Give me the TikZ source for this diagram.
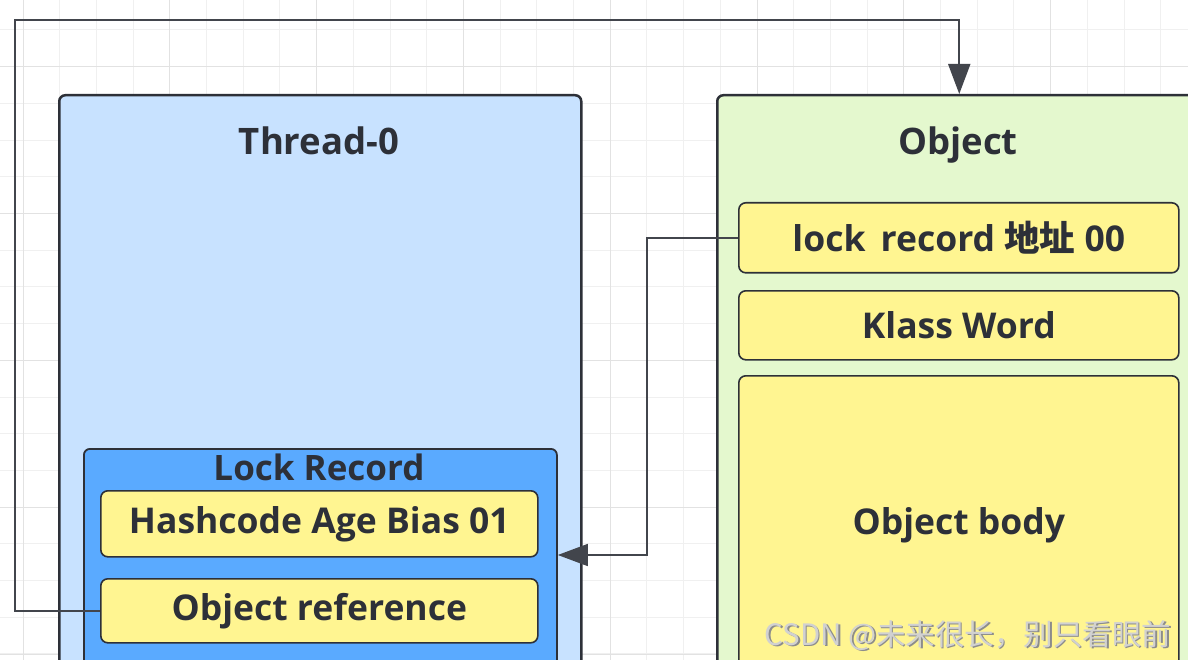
\documentclass[tikz,border=0pt]{standalone}
\usepackage{fontspec}
\setmainfont{Open Sans}
\newfontfamily\cjk{Noto Sans CJK SC}
\usetikzlibrary{%
    arrows.meta,
    positioning
}
\definecolor{threadblue}{RGB}{200,226,255}
\definecolor{recblue}{RGB}{90,170,255}
\definecolor{objgreen}{RGB}{228,248,206}
\definecolor{fieldyellow}{RGB}{255,245,145}
\definecolor{ink}{RGB}{45,48,56}
\definecolor{gridminor}{RGB}{240,240,240}
\definecolor{gridmajor}{RGB}{226,226,226}
\tikzset{headarrow/.style = {-{Triangle[length=30pt,width=22pt]}, line width=1.8pt, draw=ink!90}}
\tikzset{container/.style = {draw=ink, line width=2.5pt, rounded corners=6pt, anchor=north west, inner sep=0pt}}
\tikzset{field/.style = {draw=ink, line width=1.6pt, rounded corners=7pt, fill=fieldyellow, anchor=north west,
    font=\bfseries\fontsize{35.5}{40}\selectfont, text=ink}}
\tikzset{caption/.style = {font=\bfseries\fontsize{36.5}{40}\selectfont, text=ink, anchor=base}}

\begin{document}
\begin{tikzpicture}[x=1pt,y=-1pt]
    \useasboundingbox (0,0) rectangle (1188,660);
    \clip (0,0) rectangle (1188,660);
    \fill[white] (0,0) rectangle (1188,660);

    % background grid
    \foreach \i in {0,...,32}
        \draw[gridminor, line width=1pt] ({23+36.7*\i},0) -- ({23+36.7*\i},660);
    \foreach \i in {-1,...,17}
        \draw[gridminor, line width=1pt] (0,{30+36.7*\i}) -- (1188,{30+36.7*\i});
    \foreach \i in {0,...,8}
        \draw[gridmajor, line width=1pt] ({23+146.8*\i},0) -- ({23+146.8*\i},660);
    \foreach \i in {0,...,4}
        \draw[gridmajor, line width=1pt] (0,{67+146.8*\i}) -- (1188,{67+146.8*\i});

    % thread side
    \node[container, fill=threadblue, minimum width=522pt, minimum height=620pt] (thread) at (58,94) {};
    \node[caption] (threadtitle) at (319,155) {Thread-0};
    \node[container, fill=recblue, line width=1.8pt, minimum width=473pt, minimum height=300pt] (lockrec) at (83,448) {};
    \node[caption, font=\bfseries\fontsize{35}{40}\selectfont] (lockrectitle) at (319,480) {Lock Record};
    \node[field, minimum width=437pt, minimum height=66pt] (hash) at (100,490) {Hashcode Age Bias 01};
    \node[field, minimum width=437pt, minimum height=64pt] (objref) at (100,578) {Object reference};

    % object side
    \node[container, fill=objgreen, minimum width=484pt, minimum height=620pt] (obj) at (716,94) {};
    \node[caption] (objtitle) at (958,155) {Object};
    \node[field, minimum width=440pt, minimum height=70pt] (lockword) at (738,202) {lock\, record {\cjk 地址} 00};
    \node[field, minimum width=440pt, minimum height=69pt] (klass) at (738,290) {Klass Word};
    \node[field, minimum width=440pt, minimum height=298pt] (body) at (738,375) {Object body};

    % pointers
    \coordinate (loopcorner) at (15,20);
    \draw[headarrow] (objref.west) -| (loopcorner) -| (obj.north);
    \coordinate (lockbend) at (647,555);
    \draw[headarrow, line width=1.5pt] (lockword.west) -| (lockbend) -- (lockbend -| lockrec.east);

    % watermark
    \node[anchor=base east, text=black!45, font=\cjk\fontsize{29.5}{32}\selectfont] (markshadow) at (1176.5,646.5) {CSDN @未来很长，别只看眼前};
    \node[anchor=base east, text=black!18, font=\cjk\fontsize{29.5}{32}\selectfont] (mark) at (1175,645) {CSDN @未来很长，别只看眼前};
\end{tikzpicture}
\end{document}
